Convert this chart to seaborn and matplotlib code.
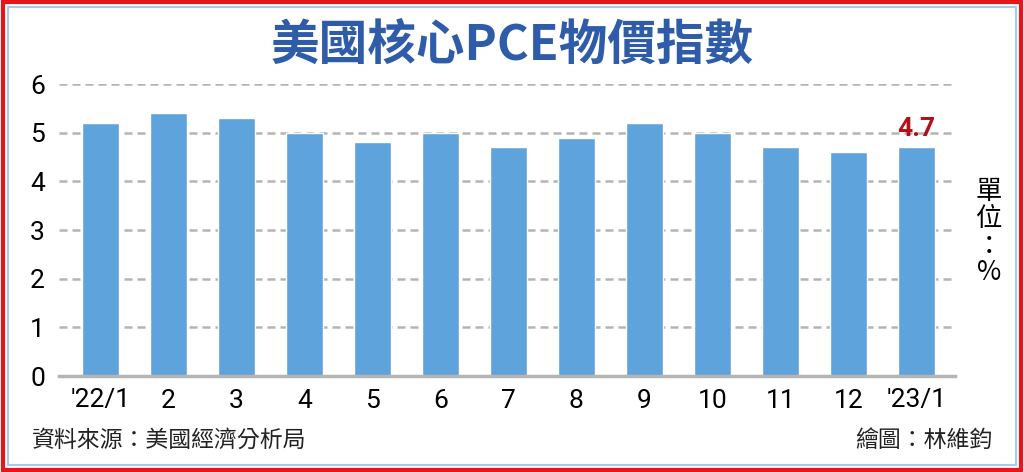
import matplotlib
matplotlib.use('Agg')
import matplotlib.pyplot as plt
import matplotlib.patches as mpatches
from matplotlib.ticker import FixedLocator
import seaborn as sns
import pandas as pd

# data
months = ["'22/1", '2', '3', '4', '5', '6', '7', '8', '9', '10', '11', '12', "'23/1"]
pce = [5.2, 5.4, 5.3, 5.0, 4.8, 5.0, 4.7, 4.9, 5.2, 5.0, 4.7, 4.6, 4.7]
yticks = [0, 1, 2, 3, 4, 5, 6]

title = '美國核心PCE物價指數'
source = '資料來源：美國經濟分析局'
credit = '繪圖：林維鈞'
unit = '單\n位\n：\n%'

bar_color = '#5fa3dc'
title_color = '#2e5ca8'
label_color = '#b3101c'

sns.set_theme(style='white')
plt.rcParams['font.family'] = ['Noto Sans CJK TC', 'DejaVu Sans']

df = pd.DataFrame({'month': months, 'pce': pce})

fig = plt.figure(figsize=(10.24, 4.72), dpi=100)
ax = fig.add_axes([59 / 1024, 1 - 376 / 472, (955 - 59) / 1024, (376 - 84) / 472])

sns.barplot(data=df, x='month', y='pce', order=months, color=bar_color,
            width=0.55, saturation=1, ax=ax, zorder=3)

ax.set_xlim(-0.61, 12.57)
ax.set_ylim(0, 6)
ax.set_xlabel('')
ax.set_ylabel('')

# dashed grid
ax.set_yticks(yticks)
for v in yticks[1:]:
    ax.axhline(v, color='#b4b4b4', lw=1.8, ls=(0, (3.2, 2.0)), zorder=1)

for s in ['top', 'right', 'left']:
    ax.spines[s].set_visible(False)
ax.spines['bottom'].set_color('#b4b4b4')
ax.spines['bottom'].set_linewidth(2.5)
ax.spines['bottom'].set_zorder(4)

ax.tick_params(axis='y', length=0, labelsize=19, pad=10, labelcolor='black')
ax.tick_params(axis='x', which='major', length=0, labelsize=19, pad=9, labelcolor='black')
ax.xaxis.set_minor_locator(FixedLocator([i - 0.5 for i in range(len(months) + 1)]))
ax.tick_params(axis='x', which='minor', length=8, width=2.2, color='#b4b4b4', direction='out')
for lab in ax.get_xticklabels() + ax.get_yticklabels():
    lab.set_family(['Roboto', 'DejaVu Sans'])

# last value label
ax.text(len(months) - 1, pce[-1] + 0.12, f'{pce[-1]}', ha='center', va='bottom',
        color=label_color, fontsize=19, fontweight='bold', family=['Roboto', 'DejaVu Sans'])

fig.text(0.5, 1 - 45 / 472, title, ha='center', va='center', color=title_color,
         fontsize=35, fontweight='bold')
fig.text(989 / 1024, 1 - 232 / 472, unit, ha='center', va='center', fontsize=19,
         linespacing=1.0, color='black')
fig.text(32 / 1024, 1 - 440 / 472, source, ha='left', va='center', fontsize=16.5, color='#222222')
fig.text(992 / 1024, 1 - 440 / 472, credit, ha='right', va='center', fontsize=16.5, color='#222222')

# frame borders
fig.patches.append(mpatches.Rectangle((0.003, 0.005), 0.994, 0.99, transform=fig.transFigure,
                                      fill=False, edgecolor='#e8141c', lw=3))
fig.patches.append(mpatches.Rectangle((0.008, 0.015), 0.984, 0.97, transform=fig.transFigure,
                                      fill=False, edgecolor='#a9cbe8', lw=1.5))

fig.savefig('out.png', dpi=100)
